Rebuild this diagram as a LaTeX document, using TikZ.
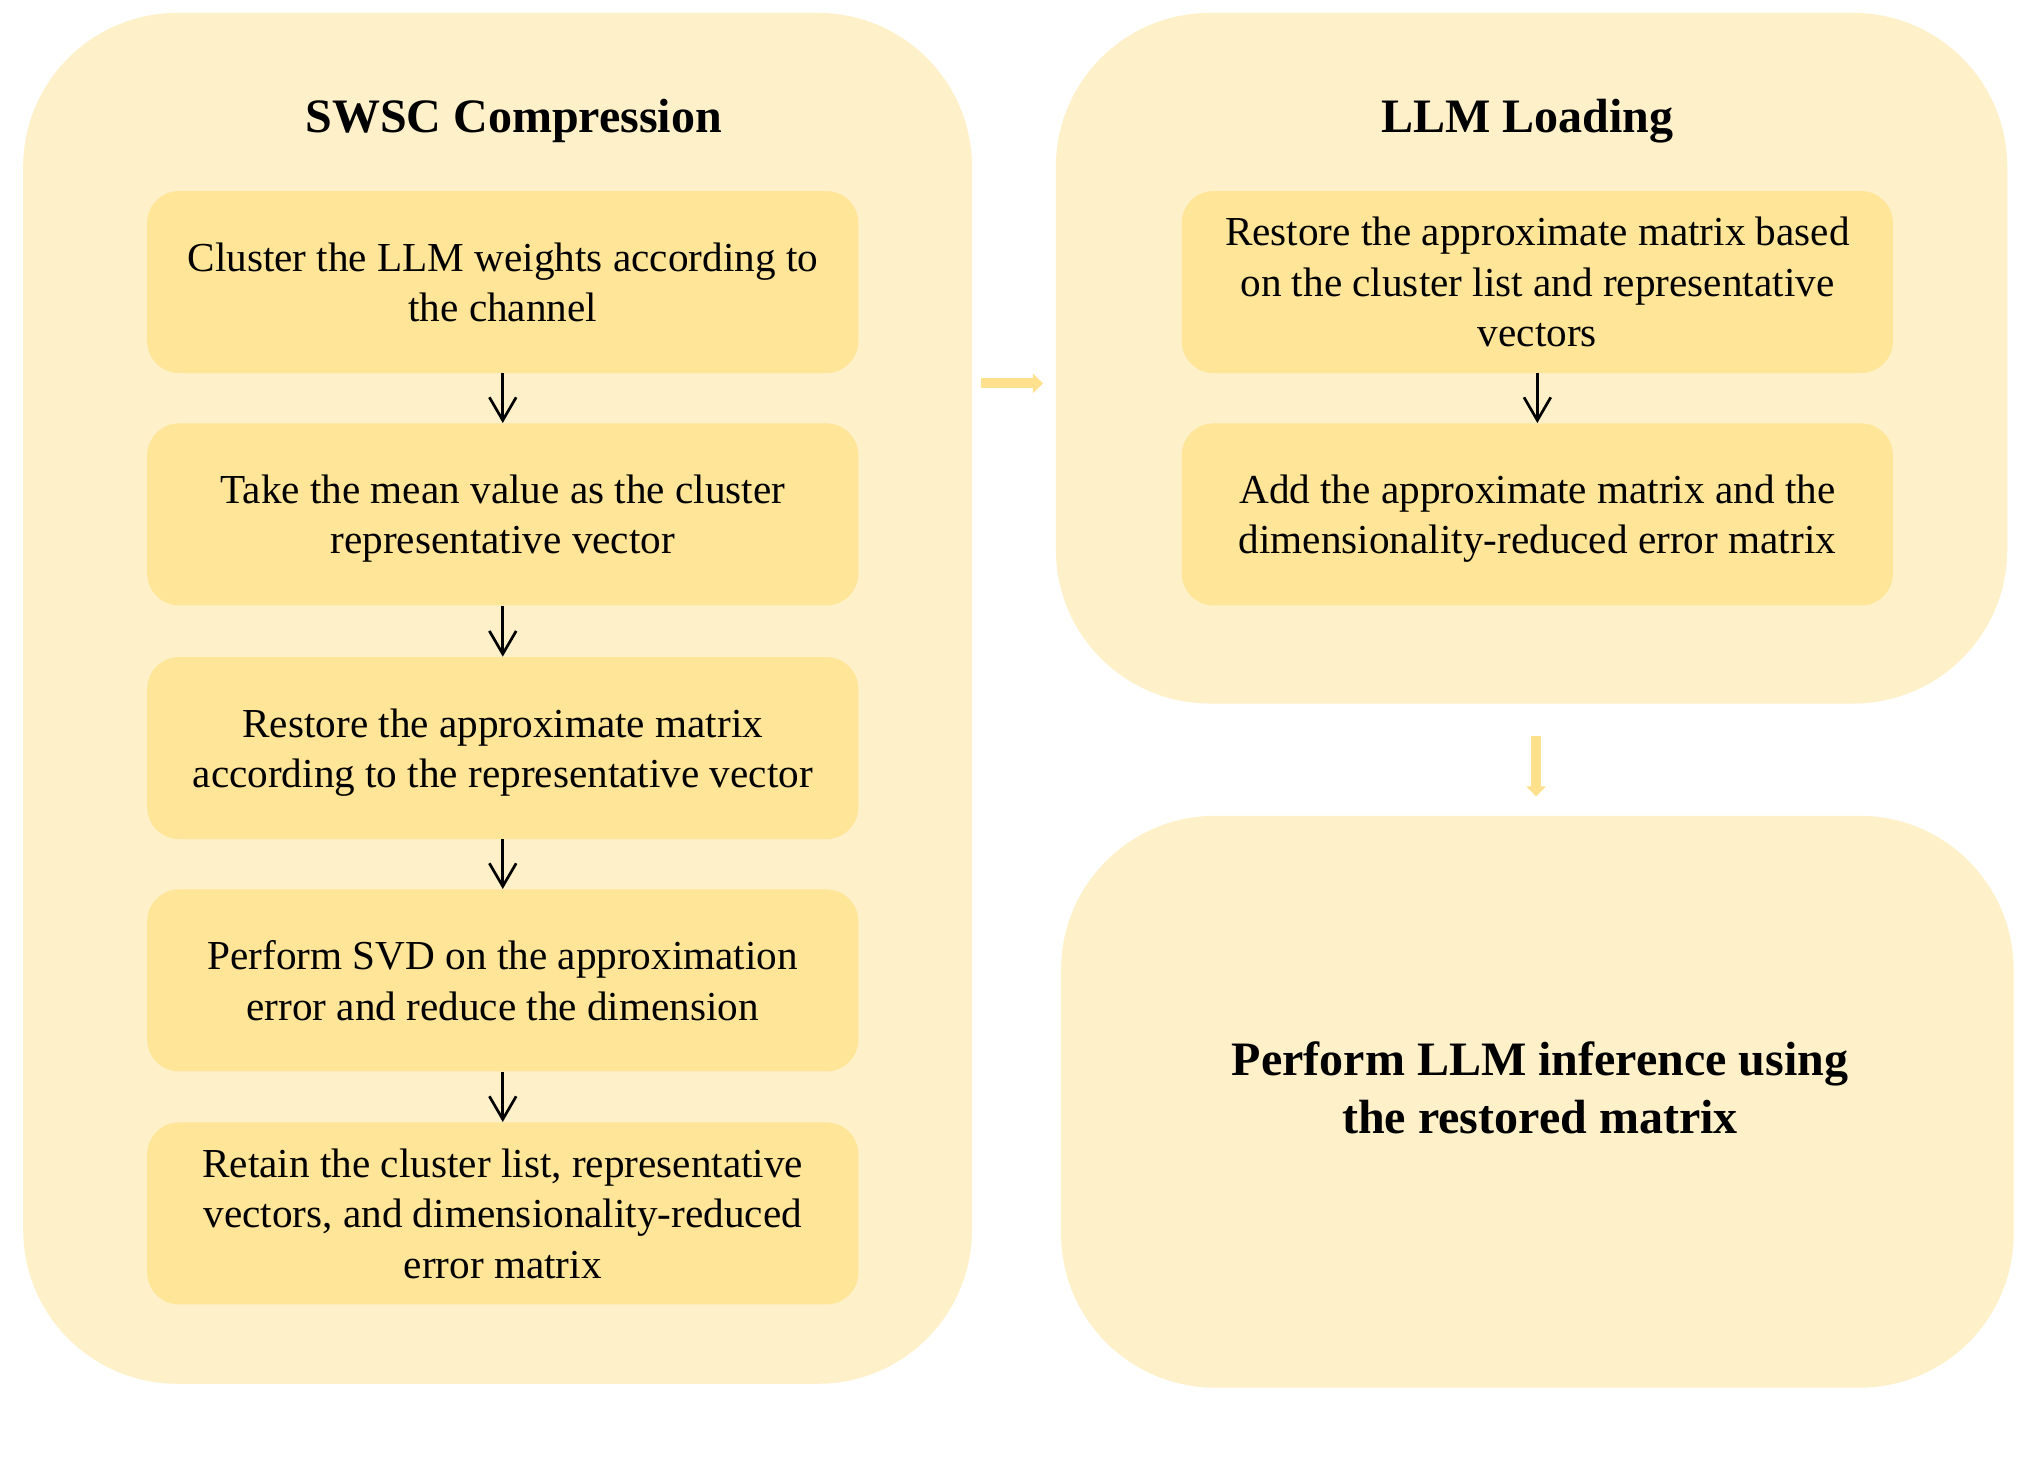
\documentclass[tikz,border=0pt]{standalone}
\usepackage{fontspec}
\setmainfont{Liberation Serif}
\usetikzlibrary{arrows.meta}
\definecolor{panelc}{HTML}{FEF0C9}
\definecolor{boxc}{HTML}{FFE597}
\definecolor{arrc}{HTML}{FFE08C}
\begin{document}
\begin{tikzpicture}[x=0.6454pt,y=-0.6454pt,
  panel/.style={fill=panelc, rounded corners=77pt, inner sep=0pt},
  stepbox/.style={fill=boxc, rounded corners=16pt, inner sep=0pt,
    minimum width=355.6pt, minimum height=91pt, align=center, text depth=0pt,
    font=\fontsize{20.6}{25.2}\selectfont},
  ttl/.style={font=\fontsize{24}{29}\selectfont\bfseries, align=center, text depth=0pt},
  blk/.style={draw=black, line width=1.35pt, -{Straight Barb[length=11.5pt,width=13.4pt]}},
  yarr/.style={draw=arrc, line width=5pt, -{Triangle[length=5pt,width=9.4pt]}}
]
\useasboundingbox (0,0) rectangle (1568,1147);
\fill[white] (0,0) rectangle (1568,1147);

% panels
\node[panel, minimum width=474.4pt, minimum height=685.4pt] (pL) at (385.5,541) {};
\node[panel, minimum width=475.7pt, minimum height=345.3pt] (pR) at (1186.5,277.5) {};
\node[panel, minimum width=476.3pt, minimum height=285.9pt] (pB) at (1191,853.5) {};

% titles
\node[ttl] (tL) at (398,90) {SWSC Compression};
\node[ttl] (tR) at (1183,90) {LLM Loading};
\node[ttl] (tB) at (1193,842.5) {Perform LLM inference using\\the restored matrix};

% left steps
\node[stepbox] (b1) at (389.5,218.5) {Cluster the LLM weights according to\\the channel};
\node[stepbox] (b2) at (389.5,398.5) {Take the mean value as the cluster\\representative vector};
\node[stepbox] (b3) at (389.5,579.5) {Restore the approximate matrix\\according to the representative vector};
\node[stepbox] (b4) at (389.5,759.5) {Perform SVD on the approximation\\error and reduce the dimension};
\node[stepbox] (b5) at (389.5,940) {Retain the cluster list, representative\\vectors, and dimensionality-reduced\\error matrix};

% right steps
\node[stepbox] (r1) at (1191,218.5) {Restore the approximate matrix based\\on the cluster list and representative\\vectors};
\node[stepbox] (r2) at (1191,398.5) {Add the approximate matrix and the\\dimensionality-reduced error matrix};

% black arrows
\draw[blk] (b1.south) -- (b2.north);
\draw[blk] (b2.south) -- (b3.north);
\draw[blk] (b3.south) -- (b4.north);
\draw[blk] (b4.south) -- (b5.north);
\draw[blk] (r1.south) -- (r2.north);

% yellow arrows
\coordinate (ya1) at (760,297);
\coordinate (ya2) at (808,297);
\coordinate (yb1) at (1190,570);
\coordinate (yb2) at (1190,617);
\draw[yarr] (ya1) -- (ya2);
\draw[yarr] (yb1) -- (yb2);
\end{tikzpicture}
\end{document}
